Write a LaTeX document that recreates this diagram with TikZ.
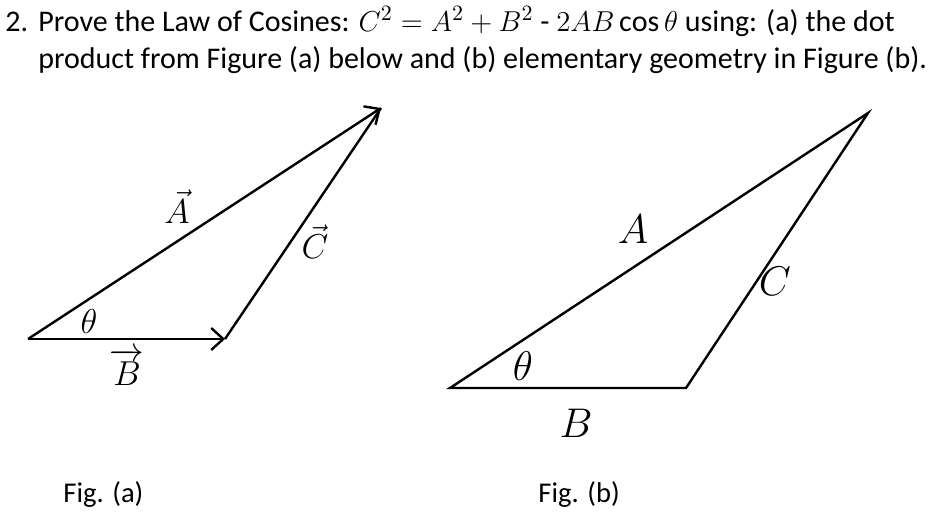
\documentclass[tikz,border=0pt]{standalone}
\usepackage{amsmath}
\usepackage{fontspec}
\setmainfont{Carlito}
\usetikzlibrary{arrows.meta}

\begin{document}
\begin{tikzpicture}[
  x=0.5pt, y=-0.5pt,
  >={Straight Barb[length=6pt,width=11pt]},
  side/.style={line width=1.2pt},
  lbla/.style={anchor=base, inner sep=0pt, font=\fontsize{16}{19}\selectfont},
  lblb/.style={anchor=base, inner sep=0pt, font=\fontsize{20}{24}\selectfont},
  txt/.style={anchor=base west, inner sep=0pt, font=\fontsize{15}{18}\selectfont},
  figtxt/.style={txt, font=\fontsize{14.3}{17}\selectfont},
]
\useasboundingbox (0,0) rectangle (931,516);

\node [txt] (num) at (5,31) {2.};
\node [txt] (line1) at (38,31) {Prove the Law of Cosines: $C^2 = A^2 + B^2$ - $2AB\cos\theta$ using: (a) the dot};
\node [txt] (line2) at (38,68) {product from Figure (a) below and (b) elementary geometry in Figure (b).};

\coordinate (Oa) at (28,339);
\coordinate (Ba) at (225,339);
\coordinate (Ta) at (381,108);
\draw [side,->] (Oa) -- (Ta);
\draw [side,->] (Oa) -- (Ba);
\draw [side] (Ba) -- (Ta);
\node [lbla] (vA) at (177,223) {$\vec{A}$};
\node [lbla] (vB) at (127,385) {$\overrightarrow{B}$};
\node [lbla] (vC) at (315,258) {$\vec{C}$};
\node [lbla] (tha) at (89,333) {$\theta$};
\node [figtxt] (figa) at (63,502) {Fig. (a)};

\coordinate (Ob) at (450,388);
\coordinate (Bb) at (686,388);
\coordinate (Tb) at (868,113);
\draw [side] (Ob) -- (Bb) -- (Tb) -- cycle;
\node [lblb] (sA) at (633,243) {$A$};
\node [lblb] (sB) at (576,437) {$B$};
\node [lblb] (sC) at (775,295) {$C$};
\node [lblb] (thb) at (523,380) {$\theta$};
\node [figtxt] (figb) at (538,502) {Fig. (b)};

\end{tikzpicture}
\end{document}
